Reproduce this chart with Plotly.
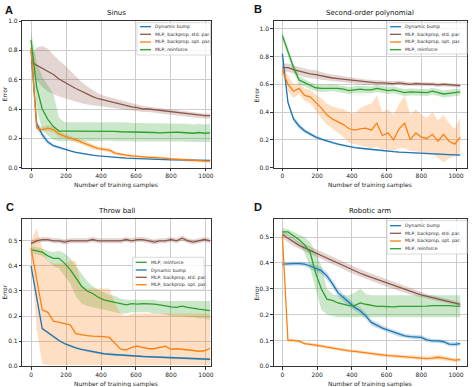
import plotly.graph_objects as go

W, H = 474, 387

# ---------------- data ----------------
x_samples = [0, 32, 64, 96, 128, 160, 192, 224, 256, 288, 320, 352, 384, 416, 448, 480, 512,
             544, 576, 608, 640, 672, 704, 736, 768, 800, 832, 864, 896, 928, 960, 992, 1024]

names = {
    "bump": "Dynamic bump",
    "std": "MLP, backprop, std. par.",
    "opt": "MLP, backprop, opt. par.",
    "rein": "MLP, reinforce",
}

# Panel A - Sinus
A_bump = [0.80, 0.30, 0.225, 0.175, 0.15, 0.137, 0.124, 0.114, 0.105, 0.097, 0.09, 0.085, 0.08, 0.076,
          0.073, 0.07, 0.067, 0.065, 0.063, 0.061, 0.06, 0.058, 0.057, 0.056, 0.055, 0.054, 0.053, 0.053,
          0.052, 0.052, 0.051, 0.051, 0.05]
A_bump_lo = [0.76, 0.27, 0.205, 0.16, 0.14, 0.129, 0.117, 0.108, 0.1, 0.092, 0.086, 0.081, 0.076, 0.073,
             0.07, 0.067, 0.064, 0.062, 0.06, 0.058, 0.057, 0.055, 0.054, 0.053, 0.052, 0.051, 0.05, 0.05,
             0.049, 0.049, 0.048, 0.048, 0.047]
A_bump_hi = [0.84, 0.33, 0.245, 0.19, 0.16, 0.145, 0.131, 0.12, 0.11, 0.102, 0.094, 0.089, 0.084, 0.079,
             0.076, 0.073, 0.07, 0.068, 0.066, 0.064, 0.063, 0.061, 0.06, 0.059, 0.058, 0.057, 0.056, 0.056,
             0.055, 0.055, 0.054, 0.054, 0.053]
A_std = [0.72, 0.70, 0.68, 0.655, 0.635, 0.605, 0.58, 0.56, 0.54, 0.52, 0.50, 0.485, 0.47, 0.46, 0.45,
         0.44, 0.43, 0.425, 0.415, 0.41, 0.40, 0.40, 0.395, 0.39, 0.385, 0.38, 0.375, 0.37, 0.365, 0.36,
         0.36, 0.355, 0.355]
A_std_lo = [0.67, 0.60, 0.55, 0.52, 0.50, 0.485, 0.47, 0.46, 0.45, 0.44, 0.43, 0.425, 0.42, 0.415, 0.41,
            0.405, 0.40, 0.395, 0.39, 0.385, 0.38, 0.38, 0.375, 0.37, 0.365, 0.36, 0.355, 0.35, 0.345,
            0.34, 0.34, 0.335, 0.335]
A_std_hi = [0.77, 0.82, 0.83, 0.81, 0.77, 0.73, 0.70, 0.66, 0.62, 0.585, 0.555, 0.53, 0.505, 0.49, 0.48,
            0.47, 0.455, 0.445, 0.435, 0.43, 0.42, 0.415, 0.41, 0.405, 0.4, 0.395, 0.39, 0.385, 0.38,
            0.375, 0.375, 0.37, 0.37]
A_opt = [0.82, 0.27, 0.26, 0.27, 0.26, 0.23, 0.215, 0.205, 0.19, 0.175, 0.16, 0.14, 0.13, 0.125, 0.12,
         0.10, 0.09, 0.085, 0.08, 0.075, 0.072, 0.07, 0.07, 0.065, 0.062, 0.06, 0.058, 0.055, 0.05, 0.048,
         0.045, 0.045, 0.045]
A_opt_lo = [0.78, 0.25, 0.24, 0.25, 0.24, 0.21, 0.20, 0.19, 0.175, 0.16, 0.145, 0.125, 0.115, 0.11, 0.105,
            0.088, 0.08, 0.075, 0.07, 0.065, 0.062, 0.06, 0.06, 0.056, 0.053, 0.05, 0.048, 0.045, 0.04,
            0.038, 0.035, 0.035, 0.035]
A_opt_hi = [0.86, 0.29, 0.28, 0.29, 0.28, 0.25, 0.23, 0.22, 0.205, 0.19, 0.175, 0.155, 0.145, 0.14, 0.135,
            0.112, 0.10, 0.095, 0.09, 0.085, 0.082, 0.08, 0.08, 0.074, 0.071, 0.07, 0.068, 0.065, 0.06,
            0.058, 0.055, 0.055, 0.055]
A_rein = [0.87, 0.55, 0.40, 0.33, 0.28, 0.25, 0.25, 0.25, 0.25, 0.248, 0.25, 0.25, 0.248, 0.25, 0.252,
          0.248, 0.245, 0.245, 0.243, 0.245, 0.24, 0.242, 0.24, 0.238, 0.24, 0.24, 0.242, 0.24, 0.238,
          0.235, 0.24, 0.235, 0.238]
A_rein_lo = [0.80, 0.40, 0.26, 0.22, 0.19, 0.18, 0.18, 0.18, 0.18, 0.18, 0.18, 0.18, 0.18, 0.18, 0.185,
             0.18, 0.18, 0.18, 0.178, 0.18, 0.178, 0.178, 0.178, 0.176, 0.178, 0.178, 0.18, 0.178, 0.176,
             0.175, 0.178, 0.175, 0.176]
A_rein_hi = [0.93, 0.72, 0.62, 0.56, 0.50, 0.34, 0.31, 0.31, 0.31, 0.31, 0.31, 0.31, 0.31, 0.31, 0.315,
             0.31, 0.31, 0.31, 0.305, 0.305, 0.30, 0.305, 0.30, 0.30, 0.30, 0.30, 0.305, 0.30, 0.30,
             0.295, 0.30, 0.295, 0.30]

# Panel B - Second-order polynomial
B_bump = [0.82, 0.47, 0.35, 0.30, 0.265, 0.24, 0.22, 0.205, 0.19, 0.18, 0.17, 0.16, 0.152, 0.145, 0.14,
          0.135, 0.13, 0.125, 0.122, 0.118, 0.115, 0.112, 0.11, 0.107, 0.105, 0.102, 0.10, 0.098, 0.096,
          0.094, 0.092, 0.09, 0.09]
B_bump_lo = [0.80, 0.45, 0.33, 0.28, 0.25, 0.227, 0.208, 0.195, 0.181, 0.172, 0.162, 0.153, 0.146, 0.139,
             0.134, 0.13, 0.125, 0.12, 0.117, 0.113, 0.11, 0.108, 0.106, 0.103, 0.101, 0.098, 0.096, 0.094,
             0.092, 0.09, 0.088, 0.086, 0.086]
B_bump_hi = [0.84, 0.49, 0.37, 0.32, 0.28, 0.253, 0.232, 0.215, 0.199, 0.188, 0.178, 0.167, 0.158, 0.151,
             0.146, 0.14, 0.135, 0.13, 0.127, 0.123, 0.12, 0.116, 0.114, 0.111, 0.109, 0.106, 0.104, 0.102,
             0.1, 0.098, 0.096, 0.094, 0.094]
B_std = [0.72, 0.72, 0.705, 0.695, 0.68, 0.675, 0.67, 0.66, 0.65, 0.645, 0.64, 0.635, 0.63, 0.625, 0.62,
         0.615, 0.615, 0.61, 0.61, 0.605, 0.605, 0.61, 0.605, 0.60, 0.605, 0.60, 0.60, 0.60, 0.595, 0.60,
         0.595, 0.59, 0.59]
B_std_lo = [0.69, 0.69, 0.675, 0.665, 0.65, 0.645, 0.64, 0.632, 0.625, 0.62, 0.615, 0.612, 0.608, 0.604,
            0.6, 0.596, 0.597, 0.593, 0.593, 0.589, 0.589, 0.594, 0.59, 0.585, 0.59, 0.586, 0.586, 0.586,
            0.581, 0.586, 0.581, 0.576, 0.576]
B_std_hi = [0.75, 0.75, 0.735, 0.725, 0.71, 0.705, 0.70, 0.688, 0.675, 0.67, 0.665, 0.658, 0.652, 0.646,
            0.64, 0.634, 0.633, 0.627, 0.627, 0.621, 0.621, 0.626, 0.62, 0.615, 0.62, 0.614, 0.614, 0.614,
            0.609, 0.614, 0.609, 0.604, 0.604]
B_opt = [0.70, 0.60, 0.55, 0.57, 0.52, 0.51, 0.47, 0.43, 0.38, 0.35, 0.33, 0.31, 0.28, 0.27, 0.28, 0.285,
         0.27, 0.32, 0.23, 0.25, 0.20, 0.28, 0.32, 0.20, 0.25, 0.22, 0.21, 0.24, 0.19, 0.24, 0.19, 0.17, 0.22]
B_opt_lo = [0.67, 0.55, 0.50, 0.53, 0.48, 0.46, 0.41, 0.36, 0.31, 0.28, 0.25, 0.22, 0.18, 0.17, 0.16, 0.15,
            0.14, 0.15, 0.13, 0.13, 0.12, 0.14, 0.14, 0.12, 0.12, 0.11, 0.10, 0.10, 0.07, 0.04, 0.07, 0.08,
            0.10]
B_opt_hi = [0.73, 0.66, 0.60, 0.61, 0.57, 0.56, 0.53, 0.50, 0.46, 0.44, 0.43, 0.42, 0.40, 0.39, 0.43, 0.45,
            0.46, 0.52, 0.40, 0.42, 0.38, 0.46, 0.52, 0.38, 0.42, 0.38, 0.36, 0.40, 0.34, 0.38, 0.32, 0.28,
            0.36]
B_rein = [0.95, 0.84, 0.72, 0.63, 0.61, 0.59, 0.575, 0.57, 0.57, 0.575, 0.57, 0.565, 0.555, 0.56, 0.565,
          0.56, 0.56, 0.57, 0.56, 0.555, 0.56, 0.55, 0.54, 0.545, 0.545, 0.545, 0.54, 0.55, 0.54, 0.53,
          0.535, 0.54, 0.545]
B_rein_lo = [0.92, 0.81, 0.69, 0.60, 0.585, 0.565, 0.55, 0.545, 0.545, 0.55, 0.545, 0.54, 0.53, 0.535, 0.54,
             0.535, 0.535, 0.545, 0.535, 0.53, 0.535, 0.525, 0.515, 0.52, 0.52, 0.52, 0.515, 0.525, 0.515,
             0.505, 0.51, 0.515, 0.52]
B_rein_hi = [0.98, 0.87, 0.75, 0.66, 0.635, 0.615, 0.60, 0.595, 0.595, 0.60, 0.595, 0.59, 0.58, 0.585, 0.59,
             0.585, 0.585, 0.595, 0.585, 0.58, 0.585, 0.575, 0.565, 0.57, 0.57, 0.57, 0.565, 0.575, 0.565,
             0.555, 0.56, 0.565, 0.57]

# Panel C - Throw ball
C_rein = [0.465, 0.46, 0.455, 0.44, 0.43, 0.43, 0.41, 0.385, 0.35, 0.32, 0.30, 0.29, 0.275, 0.265, 0.26,
          0.255, 0.25, 0.245, 0.25, 0.248, 0.25, 0.25, 0.248, 0.245, 0.24, 0.237, 0.235, 0.24, 0.235, 0.23,
          0.228, 0.225, 0.222]
C_rein_lo = [0.45, 0.445, 0.44, 0.42, 0.40, 0.39, 0.36, 0.33, 0.28, 0.25, 0.24, 0.235, 0.23, 0.225, 0.22,
             0.215, 0.21, 0.21, 0.215, 0.215, 0.215, 0.215, 0.21, 0.21, 0.205, 0.20, 0.20, 0.20, 0.195,
             0.195, 0.19, 0.19, 0.185]
C_rein_hi = [0.48, 0.475, 0.47, 0.46, 0.455, 0.46, 0.45, 0.43, 0.40, 0.37, 0.34, 0.32, 0.305, 0.295, 0.285,
             0.28, 0.27, 0.265, 0.265, 0.265, 0.265, 0.265, 0.265, 0.26, 0.26, 0.26, 0.26, 0.26, 0.26,
             0.26, 0.26, 0.26, 0.26]
C_bump = [0.40, 0.27, 0.15, 0.135, 0.118, 0.103, 0.09, 0.08, 0.073, 0.067, 0.062, 0.057, 0.053, 0.05, 0.048,
          0.046, 0.044, 0.042, 0.041, 0.04, 0.039, 0.038, 0.037, 0.036, 0.035, 0.034, 0.033, 0.032, 0.031,
          0.030, 0.029, 0.028, 0.028]
C_bump_lo = [0.395, 0.265, 0.145, 0.13, 0.113, 0.098, 0.086, 0.076, 0.069, 0.063, 0.058, 0.053, 0.049,
             0.046, 0.044, 0.042, 0.04, 0.038, 0.037, 0.036, 0.035, 0.034, 0.033, 0.032, 0.031, 0.03,
             0.029, 0.028, 0.027, 0.026, 0.025, 0.024, 0.024]
C_bump_hi = [0.405, 0.275, 0.155, 0.14, 0.123, 0.108, 0.094, 0.084, 0.077, 0.071, 0.066, 0.061, 0.057,
             0.054, 0.052, 0.05, 0.048, 0.046, 0.045, 0.044, 0.043, 0.042, 0.041, 0.04, 0.039, 0.038,
             0.037, 0.036, 0.035, 0.034, 0.033, 0.032, 0.032]
C_std = [0.49, 0.50, 0.505, 0.505, 0.50, 0.50, 0.495, 0.50, 0.50, 0.50, 0.50, 0.505, 0.50, 0.50, 0.50,
         0.50, 0.50, 0.505, 0.50, 0.505, 0.505, 0.50, 0.495, 0.50, 0.50, 0.505, 0.50, 0.51, 0.50, 0.495,
         0.50, 0.505, 0.50]
C_std_lo = [0.48, 0.49, 0.495, 0.495, 0.49, 0.49, 0.485, 0.49, 0.49, 0.49, 0.49, 0.495, 0.49, 0.49, 0.49,
            0.49, 0.49, 0.495, 0.49, 0.495, 0.495, 0.49, 0.485, 0.49, 0.49, 0.495, 0.49, 0.50, 0.49,
            0.485, 0.49, 0.495, 0.49]
C_std_hi = [0.50, 0.51, 0.515, 0.515, 0.51, 0.51, 0.505, 0.51, 0.51, 0.51, 0.51, 0.515, 0.51, 0.51, 0.51,
            0.51, 0.51, 0.515, 0.51, 0.515, 0.515, 0.51, 0.505, 0.51, 0.51, 0.515, 0.51, 0.52, 0.51,
            0.505, 0.51, 0.515, 0.51]
C_opt = [0.47, 0.34, 0.225, 0.215, 0.18, 0.175, 0.17, 0.165, 0.13, 0.125, 0.122, 0.12, 0.12, 0.118, 0.115,
         0.09, 0.068, 0.065, 0.075, 0.08, 0.075, 0.07, 0.07, 0.075, 0.08, 0.068, 0.07, 0.068, 0.065, 0.06,
         0.06, 0.062, 0.072]
C_opt_lo = [0.44, 0.15, 0.01, 0.005, 0.005, 0.005, 0.005, 0.005, 0.005, 0.005, 0.005, 0.005, 0.005, 0.005,
            0.005, 0.005, 0.005, 0.005, 0.005, 0.005, 0.005, 0.005, 0.005, 0.005, 0.005, 0.005, 0.005,
            0.005, 0.005, 0.005, 0.005, 0.005, 0.005]
C_opt_hi = [0.50, 0.55, 0.47, 0.42, 0.41, 0.41, 0.41, 0.42, 0.42, 0.32, 0.31, 0.31, 0.31, 0.31, 0.31, 0.25,
            0.21, 0.20, 0.21, 0.21, 0.21, 0.21, 0.21, 0.21, 0.21, 0.21, 0.21, 0.21, 0.21, 0.21, 0.21, 0.21,
            0.21]

# Panel D - Robotic arm
D_bump = [0.395, 0.397, 0.397, 0.397, 0.395, 0.388, 0.38, 0.37, 0.35, 0.32, 0.285, 0.265, 0.245, 0.228,
          0.215, 0.195, 0.17, 0.158, 0.148, 0.14, 0.132, 0.123, 0.118, 0.115, 0.113, 0.112, 0.102, 0.098,
          0.098, 0.095, 0.086, 0.085, 0.088]
D_bump_lo = [0.388, 0.39, 0.39, 0.39, 0.387, 0.378, 0.368, 0.357, 0.336, 0.306, 0.271, 0.251, 0.231, 0.215,
             0.202, 0.183, 0.159, 0.148, 0.138, 0.131, 0.123, 0.114, 0.11, 0.107, 0.105, 0.104, 0.094,
             0.09, 0.09, 0.087, 0.078, 0.077, 0.08]
D_bump_hi = [0.402, 0.404, 0.404, 0.404, 0.403, 0.398, 0.392, 0.383, 0.364, 0.334, 0.299, 0.279, 0.259,
             0.241, 0.228, 0.207, 0.181, 0.168, 0.158, 0.149, 0.141, 0.132, 0.126, 0.123, 0.121, 0.12, 0.11,
             0.106, 0.106, 0.103, 0.094, 0.093, 0.096]
D_std = [0.51, 0.495, 0.48, 0.468, 0.458, 0.448, 0.44, 0.43, 0.42, 0.41, 0.40, 0.39, 0.38, 0.37, 0.36,
         0.352, 0.344, 0.336, 0.328, 0.32, 0.312, 0.305, 0.298, 0.29, 0.283, 0.276, 0.27, 0.265, 0.26, 0.255,
         0.25, 0.245, 0.24]
D_std_lo = [0.495, 0.48, 0.465, 0.453, 0.443, 0.433, 0.425, 0.415, 0.405, 0.395, 0.385, 0.375, 0.365, 0.355,
            0.345, 0.337, 0.329, 0.321, 0.314, 0.306, 0.299, 0.292, 0.286, 0.278, 0.272, 0.265, 0.26, 0.255,
            0.25, 0.246, 0.241, 0.237, 0.232]
D_std_hi = [0.525, 0.51, 0.495, 0.483, 0.473, 0.463, 0.455, 0.445, 0.435, 0.425, 0.415, 0.405, 0.395, 0.385,
            0.375, 0.367, 0.359, 0.351, 0.342, 0.334, 0.325, 0.318, 0.31, 0.302, 0.294, 0.287, 0.28, 0.275,
            0.27, 0.264, 0.259, 0.253, 0.248]
D_opt = [0.505, 0.10, 0.10, 0.097, 0.088, 0.086, 0.082, 0.078, 0.074, 0.07, 0.066, 0.063, 0.06, 0.058, 0.055,
         0.052, 0.05, 0.046, 0.043, 0.041, 0.04, 0.038, 0.036, 0.036, 0.034, 0.032, 0.03, 0.032, 0.035, 0.032,
         0.028, 0.024, 0.026]
D_opt_lo = [0.495, 0.094, 0.094, 0.091, 0.082, 0.08, 0.076, 0.072, 0.068, 0.064, 0.06, 0.057, 0.054, 0.052,
            0.049, 0.046, 0.044, 0.039, 0.036, 0.034, 0.033, 0.031, 0.029, 0.028, 0.026, 0.024, 0.022, 0.023,
            0.025, 0.023, 0.02, 0.017, 0.019]
D_opt_hi = [0.515, 0.106, 0.106, 0.103, 0.094, 0.092, 0.088, 0.084, 0.08, 0.076, 0.072, 0.069, 0.066, 0.064,
            0.061, 0.058, 0.056, 0.053, 0.05, 0.048, 0.047, 0.045, 0.043, 0.044, 0.042, 0.04, 0.038, 0.041,
            0.045, 0.041, 0.036, 0.031, 0.033]
D_rein = [0.52, 0.52, 0.505, 0.49, 0.47, 0.44, 0.36, 0.30, 0.26, 0.255, 0.245, 0.24, 0.235, 0.235, 0.245,
          0.24, 0.235, 0.232, 0.232, 0.23, 0.23, 0.232, 0.233, 0.232, 0.232, 0.232, 0.233, 0.235, 0.235,
          0.236, 0.235, 0.233, 0.232]
D_rein_lo = [0.505, 0.505, 0.49, 0.47, 0.44, 0.38, 0.30, 0.22, 0.20, 0.195, 0.19, 0.19, 0.19, 0.19, 0.19,
             0.19, 0.19, 0.19, 0.19, 0.19, 0.19, 0.19, 0.19, 0.19, 0.19, 0.19, 0.19, 0.19, 0.19, 0.19, 0.19,
             0.19, 0.19]
D_rein_hi = [0.535, 0.53, 0.52, 0.51, 0.50, 0.48, 0.44, 0.39, 0.30, 0.28, 0.275, 0.275, 0.275, 0.285, 0.30,
             0.28, 0.275, 0.275, 0.275, 0.275, 0.275, 0.275, 0.275, 0.275, 0.275, 0.275, 0.275, 0.275,
             0.275, 0.275, 0.275, 0.275, 0.275]

x_ticks = [0, 200, 400, 600, 800, 1000]
yticks_AB = [0.0, 0.2, 0.4, 0.6, 0.8, 1.0]
yticks_CD = [0.0, 0.1, 0.2, 0.3, 0.4, 0.5]

# ---------------- styling ----------------
colors = {"bump": "#1f77b4", "std": "#8c564b", "opt": "#ff7f0e", "rein": "#2ca02c"}
fills = {"bump": "rgba(31,119,180,0.25)", "std": "rgba(140,86,75,0.25)",
         "opt": "rgba(255,127,14,0.25)", "rein": "rgba(44,160,44,0.25)"}
FONT = "DejaVu Sans"


def px_x(p):
    return p / W


def px_y(p):
    return 1 - p / H


panels = [
    dict(ax="", title="Sinus", letter="A",
         series=[("bump", A_bump, A_bump_lo, A_bump_hi), ("std", A_std, A_std_lo, A_std_hi),
                 ("opt", A_opt, A_opt_lo, A_opt_hi), ("rein", A_rein, A_rein_lo, A_rein_hi)],
         xd=(22.3, 210.5), yd=(21, 167.7), xr=[-50, 1026], yr=[0, 1.0], yt=yticks_AB,
         leg_box=(137, 22.7, 210.5, 55), leg_rows=[26.7, 34.3, 42.0, 49.7],
         legend_order=["bump", "std", "opt", "rein"], letter_pos=(3, 2), ytitle_x=4, xtitle_y=179),
    dict(ax="2", title="Second-order polynomial", letter="B",
         series=[("bump", B_bump, B_bump_lo, B_bump_hi), ("std", B_std, B_std_lo, B_std_hi),
                 ("opt", B_opt, B_opt_lo, B_opt_hi), ("rein", B_rein, B_rein_lo, B_rein_hi)],
         xd=(273.7, 467), yd=(21, 167.7), xr=[-50, 1063], yr=[0, 1.055], yt=yticks_AB,
         leg_box=(387, 22.7, 467, 54), leg_rows=[26.7, 34.3, 42.0, 49.7],
         legend_order=["bump", "std", "opt", "rein"], letter_pos=(252, 1), ytitle_x=256, xtitle_y=179),
    dict(ax="3", title="Throw ball", letter="C",
         series=[("rein", C_rein, C_rein_lo, C_rein_hi), ("bump", C_bump, C_bump_lo, C_bump_hi),
                 ("std", C_std, C_std_lo, C_std_hi), ("opt", C_opt, C_opt_lo, C_opt_hi)],
         xd=(22.3, 210.5), yd=(218.7, 366.3), xr=[-50, 1026], yr=[0, 0.588], yt=yticks_CD,
         leg_box=(132.7, 257.3, 204, 290), leg_rows=[262.3, 270.0, 277.3, 284.7],
         legend_order=["rein", "bump", "std", "opt"], letter_pos=(4, 199), ytitle_x=4, xtitle_y=378),
    dict(ax="4", title="Robotic arm", letter="D",
         series=[("bump", D_bump, D_bump_lo, D_bump_hi), ("std", D_std, D_std_lo, D_std_hi),
                 ("opt", D_opt, D_opt_lo, D_opt_hi), ("rein", D_rein, D_rein_lo, D_rein_hi)],
         xd=(273.7, 467), yd=(218.7, 366.3), xr=[-50, 1063], yr=[0, 0.571], yt=yticks_CD,
         leg_box=(387, 220.7, 467, 254), leg_rows=[225.7, 233.3, 241.0, 248.7],
         legend_order=["bump", "std", "opt", "rein"], letter_pos=(252, 199), ytitle_x=256, xtitle_y=378),
]

fig = go.Figure()
layout = dict(width=W, height=H, margin=dict(l=0, r=0, t=0, b=0), paper_bgcolor="white",
              plot_bgcolor="white", showlegend=False, font=dict(family=FONT, size=6, color="#222"))
shapes = []
annotations = []

for p in panels:
    xa, ya = "x" + p["ax"], "y" + p["ax"]
    for key, m, lo, hi in p["series"]:
        fig.add_trace(go.Scatter(x=x_samples + x_samples[::-1], y=hi + lo[::-1], fill="toself",
                                 fillcolor=fills[key], line=dict(width=0), mode="lines",
                                 hoverinfo="skip", xaxis=xa, yaxis=ya))
    for key, m, lo, hi in p["series"]:
        fig.add_trace(go.Scatter(x=x_samples, y=m, mode="lines", name=names[key],
                                 line=dict(color=colors[key], width=1.3), xaxis=xa, yaxis=ya))

    axis_common = dict(showline=True, mirror=True, linecolor="#333", linewidth=0.8,
                       ticks="outside", ticklen=2.5, tickwidth=0.8, tickcolor="#333",
                       showgrid=True, gridcolor="#cccccc", gridwidth=0.8, zeroline=False,
                       automargin=False, tickfont=dict(family=FONT, size=6, color="#222"))
    layout["xaxis" + p["ax"]] = dict(axis_common, domain=[px_x(p["xd"][0]), px_x(p["xd"][1])],
                                     range=p["xr"], tickvals=x_ticks, anchor=ya)
    layout["yaxis" + p["ax"]] = dict(axis_common, domain=[px_y(p["yd"][1]), px_y(p["yd"][0])],
                                     range=p["yr"], tickvals=p["yt"], tickformat=".1f", anchor=xa)
    cx = (p["xd"][0] + p["xd"][1]) / 2
    cy = (p["yd"][0] + p["yd"][1]) / 2
    annotations.append(dict(text=p["title"], x=px_x(cx), y=px_y(p["yd"][0] - 2), xref="paper",
                            yref="paper", xanchor="center", yanchor="bottom", showarrow=False,
                            font=dict(family=FONT, size=7, color="#111")))
    annotations.append(dict(text="Number of training samples", x=px_x(cx), y=px_y(p["xtitle_y"]),
                            xref="paper", yref="paper", xanchor="center", yanchor="top",
                            showarrow=False, font=dict(family=FONT, size=6, color="#222")))
    annotations.append(dict(text="Error", x=px_x(p["ytitle_x"]), y=px_y(cy), xref="paper",
                            yref="paper", xanchor="center", yanchor="middle", textangle=-90,
                            showarrow=False, font=dict(family=FONT, size=6, color="#222")))
    lx, ly = p["letter_pos"]
    annotations.append(dict(text="<b>%s</b>" % p["letter"], x=px_x(lx), y=px_y(ly),
                            xref="paper", yref="paper", xanchor="left", yanchor="top",
                            showarrow=False, font=dict(family="Liberation Sans", size=11, color="#111")))
    # legend box
    bx0, by0, bx1, by1 = p["leg_box"]
    shapes.append(dict(type="rect", xref="paper", yref="paper", x0=px_x(bx0), x1=px_x(bx1),
                       y0=px_y(by1), y1=px_y(by0), fillcolor="rgba(255,255,255,0.8)",
                       line=dict(color="#d0d0d0", width=0.8), layer="above"))
    for key, ry in zip(p["legend_order"], p["leg_rows"]):
        shapes.append(dict(type="line", xref="paper", yref="paper", x0=px_x(bx0 + 3),
                           x1=px_x(bx0 + 14), y0=px_y(ry), y1=px_y(ry),
                           line=dict(color=colors[key], width=1.3), layer="above"))
        annotations.append(dict(text=names[key], x=px_x(bx0 + 16), y=px_y(ry), xref="paper",
                                yref="paper", xanchor="left", yanchor="middle", showarrow=False,
                                font=dict(family=FONT, size=4.6, color="#222")))

layout["shapes"] = shapes
layout["annotations"] = annotations
fig.update_layout(**layout)
fig.write_html("out.html", config={"displayModeBar": False},
               post_script="document.body.style.margin='0';document.body.style.padding='0';"
                           "document.body.style.overflow='hidden';")
